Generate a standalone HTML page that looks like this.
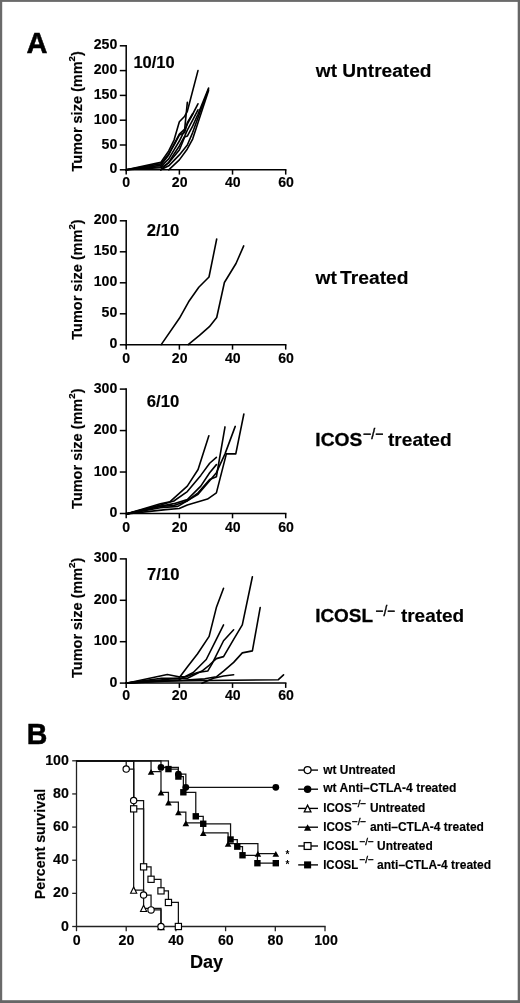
<!DOCTYPE html>
<html lang="en">
<head>
<meta charset="utf-8">
<title>Figure</title>
<style>
html,body{margin:0;padding:0;background:#fff;}
body{width:520px;height:1003px;overflow:hidden;}
#fig{position:absolute;left:0;top:0;width:520px;height:1003px;background:#fff;}
svg{position:absolute;left:0;top:0;display:block;}
svg text{font-family:"Liberation Sans","DejaVu Sans",sans-serif;font-weight:bold;fill:#000;stroke:#000;stroke-width:0.15px;}
</style>
</head>
<body>
<div id="fig"></div>
<svg width="520" height="1003" viewBox="0 0 520 1003">
<rect x="0" y="0" width="520" height="1.9" fill="#6a6a6a"/>
<rect x="0" y="0" width="2.2" height="1003" fill="#6a6a6a"/>
<rect x="517.7" y="0" width="2.3" height="1003" fill="#666"/>
<rect x="0" y="1000.2" width="520" height="2.8" fill="#666"/>
<line x1="126.2" y1="45.05" x2="126.2" y2="170.55" stroke="#000" stroke-width="1.5"/>
<line x1="125.45" y1="169.8" x2="286.45" y2="169.8" stroke="#000" stroke-width="1.5"/>
<line x1="119.8" y1="169.8" x2="126.2" y2="169.8" stroke="#000" stroke-width="1.5"/>
<text x="117.3" y="173.3" font-size="14.1" text-anchor="end">0</text>
<line x1="119.8" y1="145" x2="126.2" y2="145" stroke="#000" stroke-width="1.5"/>
<text x="117.3" y="148.5" font-size="14.1" text-anchor="end">50</text>
<line x1="119.8" y1="120.2" x2="126.2" y2="120.2" stroke="#000" stroke-width="1.5"/>
<text x="117.3" y="123.7" font-size="14.1" text-anchor="end">100</text>
<line x1="119.8" y1="95.4" x2="126.2" y2="95.4" stroke="#000" stroke-width="1.5"/>
<text x="117.3" y="98.9" font-size="14.1" text-anchor="end">150</text>
<line x1="119.8" y1="70.6" x2="126.2" y2="70.6" stroke="#000" stroke-width="1.5"/>
<text x="117.3" y="74.1" font-size="14.1" text-anchor="end">200</text>
<line x1="119.8" y1="45.8" x2="126.2" y2="45.8" stroke="#000" stroke-width="1.5"/>
<text x="117.3" y="49.3" font-size="14.1" text-anchor="end">250</text>
<line x1="126.2" y1="169.8" x2="126.2" y2="174.6" stroke="#000" stroke-width="1.5"/>
<text x="126.2" y="187.3" font-size="14.1" text-anchor="middle">0</text>
<line x1="179.37" y1="169.8" x2="179.37" y2="174.6" stroke="#000" stroke-width="1.5"/>
<text x="179.67" y="187.3" font-size="14.1" text-anchor="middle">20</text>
<line x1="232.53" y1="169.8" x2="232.53" y2="174.6" stroke="#000" stroke-width="1.5"/>
<text x="232.83" y="187.3" font-size="14.1" text-anchor="middle">40</text>
<line x1="285.7" y1="169.8" x2="285.7" y2="174.6" stroke="#000" stroke-width="1.5"/>
<text x="286" y="187.3" font-size="14.1" text-anchor="middle">60</text>
<g transform="translate(82.2 171.5) rotate(-90) scale(1 1.02)">
<text x="0" y="0" font-size="14" textLength="120.4" lengthAdjust="spacingAndGlyphs">Tumor size (mm<tspan font-size="9.5" dy="-7.0">2</tspan><tspan dy="7.0">)</tspan></text>
</g>
<text x="133.4" y="67.7" font-size="15.8" text-anchor="start" textLength="41.3" lengthAdjust="spacingAndGlyphs">10/10</text>
<polyline points="126.2,169.8 160.75,162.36 168.73,150.95 174.04,140.04 179.36,121.69 184.68,116.23 187.33,111.27 197.97,70.6" fill="none" stroke="#000" stroke-width="1.6" stroke-linejoin="round" stroke-linecap="round"/>
<polyline points="126.2,169.8 160.75,165.34 168.73,154.92 174.04,144.01 179.36,134.09 184.68,129.13 187.33,102.34" fill="none" stroke="#000" stroke-width="1.6" stroke-linejoin="round" stroke-linecap="round"/>
<polyline points="126.2,169.8 160.75,166.82 168.73,158.89 174.04,149.96 179.36,141.03 184.68,130.12 187.33,124.17 192.65,114.25 197.97,103.83" fill="none" stroke="#000" stroke-width="1.6" stroke-linejoin="round" stroke-linecap="round"/>
<polyline points="160.75,169.8 168.73,162.36 174.04,153.93 179.36,145.99 184.68,136.07 187.33,130.12 192.65,120.2 197.97,109.78" fill="none" stroke="#000" stroke-width="1.6" stroke-linejoin="round" stroke-linecap="round"/>
<polyline points="126.2,169.8 160.75,167.82 168.73,162.86 179.36,149.96 184.68,137.06 187.33,136.07 192.65,126.15 197.97,114.25 208.6,87.96" fill="none" stroke="#000" stroke-width="1.6" stroke-linejoin="round" stroke-linecap="round"/>
<polyline points="160.75,169.8 168.73,165.83 179.36,154.92 187.33,145 192.65,132.6 197.97,117.72 208.6,88.95" fill="none" stroke="#000" stroke-width="1.6" stroke-linejoin="round" stroke-linecap="round"/>
<polyline points="168.73,169.8 179.36,159.88 187.33,148.97 192.65,139.05 197.97,122.68 208.6,90.44" fill="none" stroke="#000" stroke-width="1.6" stroke-linejoin="round" stroke-linecap="round"/>
<polyline points="126.2,169.8 160.75,163.85 168.73,153.93 174.04,145 179.36,135.08 184.68,132.6 187.33,122.68 192.65,113.75" fill="none" stroke="#000" stroke-width="1.6" stroke-linejoin="round" stroke-linecap="round"/>
<line x1="126.2" y1="220.05" x2="126.2" y2="345.55" stroke="#000" stroke-width="1.5"/>
<line x1="125.45" y1="344.8" x2="286.45" y2="344.8" stroke="#000" stroke-width="1.5"/>
<line x1="119.8" y1="344.8" x2="126.2" y2="344.8" stroke="#000" stroke-width="1.5"/>
<text x="117.3" y="348.3" font-size="14.1" text-anchor="end">0</text>
<line x1="119.8" y1="313.8" x2="126.2" y2="313.8" stroke="#000" stroke-width="1.5"/>
<text x="117.3" y="317.3" font-size="14.1" text-anchor="end">50</text>
<line x1="119.8" y1="282.8" x2="126.2" y2="282.8" stroke="#000" stroke-width="1.5"/>
<text x="117.3" y="286.3" font-size="14.1" text-anchor="end">100</text>
<line x1="119.8" y1="251.8" x2="126.2" y2="251.8" stroke="#000" stroke-width="1.5"/>
<text x="117.3" y="255.3" font-size="14.1" text-anchor="end">150</text>
<line x1="119.8" y1="220.8" x2="126.2" y2="220.8" stroke="#000" stroke-width="1.5"/>
<text x="117.3" y="224.3" font-size="14.1" text-anchor="end">200</text>
<line x1="126.2" y1="344.8" x2="126.2" y2="349.6" stroke="#000" stroke-width="1.5"/>
<text x="126.2" y="362.8" font-size="14.1" text-anchor="middle">0</text>
<line x1="179.37" y1="344.8" x2="179.37" y2="349.6" stroke="#000" stroke-width="1.5"/>
<text x="179.67" y="362.8" font-size="14.1" text-anchor="middle">20</text>
<line x1="232.53" y1="344.8" x2="232.53" y2="349.6" stroke="#000" stroke-width="1.5"/>
<text x="232.83" y="362.8" font-size="14.1" text-anchor="middle">40</text>
<line x1="285.7" y1="344.8" x2="285.7" y2="349.6" stroke="#000" stroke-width="1.5"/>
<text x="286" y="362.8" font-size="14.1" text-anchor="middle">60</text>
<g transform="translate(82.2 339.7) rotate(-90) scale(1 1.02)">
<text x="0" y="0" font-size="14" textLength="120.4" lengthAdjust="spacingAndGlyphs">Tumor size (mm<tspan font-size="9.5" dy="-7.0">2</tspan><tspan dy="7.0">)</tspan></text>
</g>
<text x="146.8" y="236.2" font-size="15.8" text-anchor="start" textLength="32.5" lengthAdjust="spacingAndGlyphs">2/10</text>
<polyline points="161.2,344.6 179.4,318.3 188.6,301.8 198.8,287.2 209,277 216.7,239" fill="none" stroke="#000" stroke-width="1.6" stroke-linejoin="round" stroke-linecap="round"/>
<polyline points="188.2,344.6 199.5,335.4 209.4,326.7 216.7,317.5 224.4,282.5 236,263.5 243.7,245.9" fill="none" stroke="#000" stroke-width="1.6" stroke-linejoin="round" stroke-linecap="round"/>
<line x1="126.2" y1="388.35" x2="126.2" y2="514.25" stroke="#000" stroke-width="1.5"/>
<line x1="125.45" y1="513.5" x2="286.45" y2="513.5" stroke="#000" stroke-width="1.5"/>
<line x1="119.8" y1="513.5" x2="126.2" y2="513.5" stroke="#000" stroke-width="1.5"/>
<text x="117.3" y="517" font-size="14.1" text-anchor="end">0</text>
<line x1="119.8" y1="472.03" x2="126.2" y2="472.03" stroke="#000" stroke-width="1.5"/>
<text x="117.3" y="475.53" font-size="14.1" text-anchor="end">100</text>
<line x1="119.8" y1="430.57" x2="126.2" y2="430.57" stroke="#000" stroke-width="1.5"/>
<text x="117.3" y="434.07" font-size="14.1" text-anchor="end">200</text>
<line x1="119.8" y1="389.1" x2="126.2" y2="389.1" stroke="#000" stroke-width="1.5"/>
<text x="117.3" y="392.6" font-size="14.1" text-anchor="end">300</text>
<line x1="126.2" y1="513.5" x2="126.2" y2="518.3" stroke="#000" stroke-width="1.5"/>
<text x="126.2" y="531.9" font-size="14.1" text-anchor="middle">0</text>
<line x1="179.37" y1="513.5" x2="179.37" y2="518.3" stroke="#000" stroke-width="1.5"/>
<text x="179.67" y="531.9" font-size="14.1" text-anchor="middle">20</text>
<line x1="232.53" y1="513.5" x2="232.53" y2="518.3" stroke="#000" stroke-width="1.5"/>
<text x="232.83" y="531.9" font-size="14.1" text-anchor="middle">40</text>
<line x1="285.7" y1="513.5" x2="285.7" y2="518.3" stroke="#000" stroke-width="1.5"/>
<text x="286" y="531.9" font-size="14.1" text-anchor="middle">60</text>
<g transform="translate(82.2 508.9) rotate(-90) scale(1 1.02)">
<text x="0" y="0" font-size="14" textLength="120.4" lengthAdjust="spacingAndGlyphs">Tumor size (mm<tspan font-size="9.5" dy="-7.0">2</tspan><tspan dy="7.0">)</tspan></text>
</g>
<text x="146.8" y="407.3" font-size="15.8" text-anchor="start" textLength="32.5" lengthAdjust="spacingAndGlyphs">6/10</text>
<polyline points="126.73,513.89 160.39,503.66 169.81,501.78 187.31,486.16 198.08,469.47 208.85,435.81" fill="none" stroke="#000" stroke-width="1.6" stroke-linejoin="round" stroke-linecap="round"/>
<polyline points="126.73,513.89 160.39,505.01 173.85,500.97 187.31,491.55 200.78,475.39 209.66,463.27 216.39,457.35" fill="none" stroke="#000" stroke-width="1.6" stroke-linejoin="round" stroke-linecap="round"/>
<polyline points="126.73,513.89 152.31,507.7 173.85,503.66 187.31,499.62 200.78,486.16 209.66,472.7 216.39,464.62" fill="none" stroke="#000" stroke-width="1.6" stroke-linejoin="round" stroke-linecap="round"/>
<polyline points="126.73,513.89 160.39,506.35 173.85,505.55 187.31,500.97 198.08,492.89 209.66,479.43 216.39,476.74 225.01,426.93" fill="none" stroke="#000" stroke-width="1.6" stroke-linejoin="round" stroke-linecap="round"/>
<polyline points="126.73,513.89 160.39,507.7 177.89,506.35 198.08,494.24 209.66,480.78 216.39,472.7 225.01,453.85 235.24,426.39" fill="none" stroke="#000" stroke-width="1.6" stroke-linejoin="round" stroke-linecap="round"/>
<polyline points="126.73,513.89 165.77,509.59 179.24,508.51 187.31,505.01 207.51,499.08 216.39,492.89 226.35,453.85 235.78,453.85 243.86,414" fill="none" stroke="#000" stroke-width="1.6" stroke-linejoin="round" stroke-linecap="round"/>
<line x1="126.2" y1="558.15" x2="126.2" y2="683.85" stroke="#000" stroke-width="1.5"/>
<line x1="125.45" y1="683.1" x2="286.45" y2="683.1" stroke="#000" stroke-width="1.5"/>
<line x1="119.8" y1="683.1" x2="126.2" y2="683.1" stroke="#000" stroke-width="1.5"/>
<text x="117.3" y="686.6" font-size="14.1" text-anchor="end">0</text>
<line x1="119.8" y1="641.7" x2="126.2" y2="641.7" stroke="#000" stroke-width="1.5"/>
<text x="117.3" y="645.2" font-size="14.1" text-anchor="end">100</text>
<line x1="119.8" y1="600.3" x2="126.2" y2="600.3" stroke="#000" stroke-width="1.5"/>
<text x="117.3" y="603.8" font-size="14.1" text-anchor="end">200</text>
<line x1="119.8" y1="558.9" x2="126.2" y2="558.9" stroke="#000" stroke-width="1.5"/>
<text x="117.3" y="562.4" font-size="14.1" text-anchor="end">300</text>
<line x1="126.2" y1="683.1" x2="126.2" y2="687.9" stroke="#000" stroke-width="1.5"/>
<text x="126.2" y="700.2" font-size="14.1" text-anchor="middle">0</text>
<line x1="179.37" y1="683.1" x2="179.37" y2="687.9" stroke="#000" stroke-width="1.5"/>
<text x="179.67" y="700.2" font-size="14.1" text-anchor="middle">20</text>
<line x1="232.53" y1="683.1" x2="232.53" y2="687.9" stroke="#000" stroke-width="1.5"/>
<text x="232.83" y="700.2" font-size="14.1" text-anchor="middle">40</text>
<line x1="285.7" y1="683.1" x2="285.7" y2="687.9" stroke="#000" stroke-width="1.5"/>
<text x="286" y="700.2" font-size="14.1" text-anchor="middle">60</text>
<g transform="translate(82.2 678) rotate(-90) scale(1 1.02)">
<text x="0" y="0" font-size="14" textLength="120.4" lengthAdjust="spacingAndGlyphs">Tumor size (mm<tspan font-size="9.5" dy="-7.0">2</tspan><tspan dy="7.0">)</tspan></text>
</g>
<text x="147" y="579.6" font-size="15.8" text-anchor="start" textLength="32.5" lengthAdjust="spacingAndGlyphs">7/10</text>
<polyline points="126.2,683.16 178.84,678.26 187.5,666.72 197.59,653.74 209.13,636.43 216.34,607.59 223.55,588.27" fill="none" stroke="#000" stroke-width="1.6" stroke-linejoin="round" stroke-linecap="round"/>
<polyline points="126.2,683.16 178.84,679.7 193.27,672.49 206.24,659.51 216.34,639.32 223.55,624.9" fill="none" stroke="#000" stroke-width="1.6" stroke-linejoin="round" stroke-linecap="round"/>
<polyline points="126.2,683.16 167.31,674.51 178.84,676.82 186.05,676.82 197.59,672.49 207.69,671.05 212.01,663.84 223.55,640.76 233.65,629.8" fill="none" stroke="#000" stroke-width="1.6" stroke-linejoin="round" stroke-linecap="round"/>
<polyline points="126.2,683.16 161.54,678.26 187.5,678.26 201.92,671.05 209.13,665.28 216.34,658.64 223.55,656.63 233.65,639.32 242.3,624.9 252.39,576.73" fill="none" stroke="#000" stroke-width="1.6" stroke-linejoin="round" stroke-linecap="round"/>
<polyline points="126.2,683.16 178.84,680.57 204.8,678.83 216.34,676.82 223.55,671.05 233.65,662.39 242.3,652.88 252.39,650.86 260.18,607.59" fill="none" stroke="#000" stroke-width="1.6" stroke-linejoin="round" stroke-linecap="round"/>
<polyline points="201.92,683.16 213.46,678.26 223.55,675.95 233.65,674.8" fill="none" stroke="#000" stroke-width="1.6" stroke-linejoin="round" stroke-linecap="round"/>
<polyline points="126.2,683.16 150,681.14 278.35,679.7 283.54,674.8" fill="none" stroke="#000" stroke-width="1.6" stroke-linejoin="round" stroke-linecap="round"/>
<text x="315.8" y="76.9" font-size="18" text-anchor="start" textLength="115.7" lengthAdjust="spacingAndGlyphs">wt Untreated</text>
<text x="315.6" y="284" font-size="18" text-anchor="start" textLength="21.4" lengthAdjust="spacingAndGlyphs">wt</text>
<text x="340.1" y="284" font-size="18" text-anchor="start" textLength="68.4" lengthAdjust="spacingAndGlyphs">Treated</text>
<text x="315.3" y="445.7" font-size="18.6" text-anchor="start" textLength="46.9" lengthAdjust="spacingAndGlyphs" style="stroke-width:0.3px">ICOS</text>
<text x="363" y="439.3" font-size="14.8" text-anchor="start" textLength="20.4" lengthAdjust="spacingAndGlyphs" style="font-weight:normal;stroke-width:0.45px">−/−</text>
<text x="388" y="445.7" font-size="18.6" text-anchor="start" textLength="63.6" lengthAdjust="spacingAndGlyphs">treated</text>
<text x="315.2" y="621.9" font-size="18.6" text-anchor="start" textLength="57.8" lengthAdjust="spacingAndGlyphs" style="stroke-width:0.3px">ICOSL</text>
<text x="375.5" y="615.5" font-size="14.8" text-anchor="start" textLength="19.6" lengthAdjust="spacingAndGlyphs" style="font-weight:normal;stroke-width:0.45px">−/−</text>
<text x="400.9" y="621.9" font-size="18.6" text-anchor="start" textLength="63.3" lengthAdjust="spacingAndGlyphs">treated</text>
<text x="26.6" y="52.9" font-size="29.5" text-anchor="start" textLength="21" lengthAdjust="spacingAndGlyphs" style="stroke-width:0.5px">A</text>
<text x="26.7" y="743.8" font-size="29.5" text-anchor="start" textLength="20.6" lengthAdjust="spacingAndGlyphs" style="stroke-width:0.5px">B</text>
<line x1="76.5" y1="760.15" x2="76.5" y2="927.15" stroke="#222" stroke-width="1.3"/>
<line x1="75.85" y1="926.5" x2="325.65" y2="926.5" stroke="#222" stroke-width="1.3"/>
<line x1="72.2" y1="926.5" x2="76.5" y2="926.5" stroke="#222" stroke-width="1.3"/>
<text x="68.8" y="930.6" font-size="14.2" text-anchor="end">0</text>
<line x1="72.2" y1="893.36" x2="76.5" y2="893.36" stroke="#222" stroke-width="1.3"/>
<text x="68.8" y="897.46" font-size="14.2" text-anchor="end">20</text>
<line x1="72.2" y1="860.22" x2="76.5" y2="860.22" stroke="#222" stroke-width="1.3"/>
<text x="68.8" y="864.32" font-size="14.2" text-anchor="end">40</text>
<line x1="72.2" y1="827.08" x2="76.5" y2="827.08" stroke="#222" stroke-width="1.3"/>
<text x="68.8" y="831.18" font-size="14.2" text-anchor="end">60</text>
<line x1="72.2" y1="793.94" x2="76.5" y2="793.94" stroke="#222" stroke-width="1.3"/>
<text x="68.8" y="798.04" font-size="14.2" text-anchor="end">80</text>
<line x1="72.2" y1="760.8" x2="76.5" y2="760.8" stroke="#222" stroke-width="1.3"/>
<text x="68.8" y="764.9" font-size="14.2" text-anchor="end">100</text>
<line x1="76.5" y1="926.5" x2="76.5" y2="931.2" stroke="#222" stroke-width="1.3"/>
<text x="76.7" y="945.3" font-size="14.2" text-anchor="middle">0</text>
<line x1="126.2" y1="926.5" x2="126.2" y2="931.2" stroke="#222" stroke-width="1.3"/>
<text x="126.4" y="945.3" font-size="14.2" text-anchor="middle">20</text>
<line x1="175.9" y1="926.5" x2="175.9" y2="931.2" stroke="#222" stroke-width="1.3"/>
<text x="176.1" y="945.3" font-size="14.2" text-anchor="middle">40</text>
<line x1="225.6" y1="926.5" x2="225.6" y2="931.2" stroke="#222" stroke-width="1.3"/>
<text x="225.8" y="945.3" font-size="14.2" text-anchor="middle">60</text>
<line x1="275.3" y1="926.5" x2="275.3" y2="931.2" stroke="#222" stroke-width="1.3"/>
<text x="275.5" y="945.3" font-size="14.2" text-anchor="middle">80</text>
<line x1="325" y1="926.5" x2="325" y2="931.2" stroke="#222" stroke-width="1.3"/>
<text x="326" y="945.3" font-size="14.2" text-anchor="middle">100</text>
<text x="190" y="968.4" font-size="18" text-anchor="start" textLength="33.1" lengthAdjust="spacingAndGlyphs">Day</text>
<g transform="translate(44.9 899.2) rotate(-90) scale(1 1.08)"><text x="0" y="0" font-size="14.3" textLength="110.3" lengthAdjust="spacingAndGlyphs">Percent survival</text></g>
<polyline points="76.5,760.8 133.66,760.8 133.66,890.05 143.59,890.05 143.59,908.27 160.99,908.27 160.99,926.5" fill="none" stroke="#111" stroke-width="1.25" stroke-linejoin="miter"/>
<polyline points="76.5,760.8 126.2,760.8 126.2,769.08 133.66,769.08 133.66,800.57 143.59,800.57 143.59,895.02 151.05,895.02 151.05,909.93 160.99,909.93 160.99,926.5" fill="none" stroke="#111" stroke-width="1.25" stroke-linejoin="miter"/>
<polyline points="76.5,760.8 133.66,760.8 133.66,808.85 143.59,808.85 143.59,866.85 151.05,866.85 151.05,879.28 160.99,879.28 160.99,890.87 168.44,890.87 168.44,902.47 178.38,902.47 178.38,926.5" fill="none" stroke="#111" stroke-width="1.25" stroke-linejoin="miter"/>
<polyline points="76.5,760.8 151.05,760.8 151.05,771.57 160.99,771.57 160.99,792.28 168.44,792.28 168.44,802.22 178.38,802.22 178.38,812.17 185.84,812.17 185.84,822.94 203.24,822.94 203.24,832.88 228.09,832.88 228.09,843.65 257.9,843.65 257.9,853.59 275.8,853.59" fill="none" stroke="#111" stroke-width="1.25" stroke-linejoin="miter"/>
<polyline points="76.5,760.8 160.99,760.8 160.99,767.43 178.38,767.43 178.38,774.06 185.84,774.06 185.84,787.31 275.8,787.31" fill="none" stroke="#111" stroke-width="1.25" stroke-linejoin="miter"/>
<polyline points="76.5,760.8 168.44,760.8 168.44,769.08 178.38,769.08 178.38,776.54 183.36,776.54 183.36,792.28 195.78,792.28 195.78,816.31 203.24,816.31 203.24,823.77 230.57,823.77 230.57,839.51 237.28,839.51 237.28,846.63 242.5,846.63 242.5,855.25 257.41,855.25 257.41,863.2 275.8,863.2" fill="none" stroke="#111" stroke-width="1.25" stroke-linejoin="miter"/>
<polygon points="133.66,887.05 130.6,893.25 136.71,893.25" fill="#fff" stroke="#000" stroke-width="1.15" stroke-linejoin="miter"/>
<polygon points="143.59,905.27 140.54,911.47 146.65,911.47" fill="#fff" stroke="#000" stroke-width="1.15" stroke-linejoin="miter"/>
<polygon points="160.99,923.5 157.94,929.7 164.04,929.7" fill="#fff" stroke="#000" stroke-width="1.15" stroke-linejoin="miter"/>
<circle cx="126.2" cy="769.08" r="3.15" fill="#fff" stroke="#000" stroke-width="1.15"/>
<circle cx="133.66" cy="800.57" r="3.15" fill="#fff" stroke="#000" stroke-width="1.15"/>
<circle cx="143.59" cy="895.02" r="3.15" fill="#fff" stroke="#000" stroke-width="1.15"/>
<circle cx="151.05" cy="909.93" r="3.15" fill="#fff" stroke="#000" stroke-width="1.15"/>
<circle cx="160.99" cy="926.5" r="3.15" fill="#fff" stroke="#000" stroke-width="1.15"/>
<rect x="130.56" y="805.75" width="6.2" height="6.2" fill="#fff" stroke="#000" stroke-width="1.15"/>
<rect x="140.5" y="863.75" width="6.2" height="6.2" fill="#fff" stroke="#000" stroke-width="1.15"/>
<rect x="147.95" y="876.18" width="6.2" height="6.2" fill="#fff" stroke="#000" stroke-width="1.15"/>
<rect x="157.89" y="887.77" width="6.2" height="6.2" fill="#fff" stroke="#000" stroke-width="1.15"/>
<rect x="165.34" y="899.37" width="6.2" height="6.2" fill="#fff" stroke="#000" stroke-width="1.15"/>
<rect x="175.28" y="923.4" width="6.2" height="6.2" fill="#fff" stroke="#000" stroke-width="1.15"/>
<polygon points="151.05,768.97 147.75,774.77 154.35,774.77" fill="#000"/>
<polygon points="160.99,789.68 157.69,795.48 164.29,795.48" fill="#000"/>
<polygon points="168.44,799.62 165.14,805.42 171.75,805.42" fill="#000"/>
<polygon points="178.38,809.57 175.08,815.37 181.69,815.37" fill="#000"/>
<polygon points="185.84,820.34 182.54,826.14 189.14,826.14" fill="#000"/>
<polygon points="203.24,830.28 199.94,836.08 206.54,836.08" fill="#000"/>
<polygon points="228.09,841.05 224.78,846.85 231.39,846.85" fill="#000"/>
<polygon points="257.9,850.99 254.6,856.79 261.2,856.79" fill="#000"/>
<polygon points="275.8,850.99 272.5,856.79 279.1,856.79" fill="#000"/>
<circle cx="160.99" cy="767.43" r="3.4" fill="#000"/>
<circle cx="178.38" cy="774.06" r="3.4" fill="#000"/>
<circle cx="185.84" cy="787.31" r="3.4" fill="#000"/>
<circle cx="275.8" cy="787.31" r="3.4" fill="#000"/>
<rect x="165.25" y="765.88" width="6.4" height="6.4" fill="#000"/>
<rect x="175.19" y="773.34" width="6.4" height="6.4" fill="#000"/>
<rect x="180.16" y="789.08" width="6.4" height="6.4" fill="#000"/>
<rect x="192.58" y="813.11" width="6.4" height="6.4" fill="#000"/>
<rect x="200.04" y="820.57" width="6.4" height="6.4" fill="#000"/>
<rect x="227.37" y="836.31" width="6.4" height="6.4" fill="#000"/>
<rect x="234.08" y="843.43" width="6.4" height="6.4" fill="#000"/>
<rect x="239.3" y="852.05" width="6.4" height="6.4" fill="#000"/>
<rect x="254.21" y="860" width="6.4" height="6.4" fill="#000"/>
<rect x="272.6" y="860" width="6.4" height="6.4" fill="#000"/>
<text x="287.5" y="857.6" font-size="10" text-anchor="middle" style="stroke:none">*</text>
<text x="287.5" y="867.6" font-size="10" text-anchor="middle" style="stroke:none">*</text>
<line x1="298.2" y1="770.1" x2="318" y2="770.1" stroke="#000" stroke-width="1.35"/>
<g transform="translate(307.6 770.1) scale(1.1)">
<circle cx="0" cy="0" r="3.15" fill="#fff" stroke="#000" stroke-width="1.15"/>
</g>
<text x="323.2" y="773.5" font-size="12" text-anchor="start" textLength="72.3" lengthAdjust="spacingAndGlyphs">wt Untreated</text>
<line x1="298.2" y1="789.2" x2="318" y2="789.2" stroke="#000" stroke-width="1.35"/>
<g transform="translate(307.6 789.2) scale(1.1)">
<circle cx="0" cy="0" r="3.4" fill="#000"/>
</g>
<text x="323.2" y="792.2" font-size="12" text-anchor="start" textLength="133.3" lengthAdjust="spacingAndGlyphs">wt Anti–CTLA-4 treated</text>
<line x1="298.2" y1="808.4" x2="318" y2="808.4" stroke="#000" stroke-width="1.35"/>
<g transform="translate(307.6 808.4) scale(1.1)">
<polygon points="0,-3 -3.05,3.2 3.05,3.2" fill="#fff" stroke="#000" stroke-width="1.15" stroke-linejoin="miter"/>
</g>
<text x="323.2" y="812.2" font-size="12" text-anchor="start" textLength="28.5" lengthAdjust="spacingAndGlyphs">ICOS</text>
<text x="352" y="806.8" font-size="9.6" text-anchor="start" textLength="14" lengthAdjust="spacingAndGlyphs" style="font-weight:normal;stroke-width:0.4px">−/−</text>
<text x="369.9" y="812.2" font-size="12" text-anchor="start" textLength="55.4" lengthAdjust="spacingAndGlyphs">Untreated</text>
<line x1="298.2" y1="827.2" x2="318" y2="827.2" stroke="#000" stroke-width="1.35"/>
<g transform="translate(307.6 827.2) scale(1.1)">
<polygon points="0,-2.6 -3.3,3.2 3.3,3.2" fill="#000"/>
</g>
<text x="323.2" y="830.5" font-size="12" text-anchor="start" textLength="28.5" lengthAdjust="spacingAndGlyphs">ICOS</text>
<text x="352" y="825.1" font-size="9.6" text-anchor="start" textLength="14" lengthAdjust="spacingAndGlyphs" style="font-weight:normal;stroke-width:0.4px">−/−</text>
<text x="369.9" y="830.5" font-size="12" text-anchor="start" textLength="114" lengthAdjust="spacingAndGlyphs">anti–CTLA-4 treated</text>
<line x1="298.2" y1="846" x2="318" y2="846" stroke="#000" stroke-width="1.35"/>
<g transform="translate(307.6 846) scale(1.1)">
<rect x="-3.1" y="-3.1" width="6.2" height="6.2" fill="#fff" stroke="#000" stroke-width="1.15"/>
</g>
<text x="323.2" y="850" font-size="12" text-anchor="start" textLength="35" lengthAdjust="spacingAndGlyphs">ICOSL</text>
<text x="359.6" y="844.6" font-size="9.6" text-anchor="start" textLength="14" lengthAdjust="spacingAndGlyphs" style="font-weight:normal;stroke-width:0.4px">−/−</text>
<text x="377.1" y="850" font-size="12" text-anchor="start" textLength="55.6" lengthAdjust="spacingAndGlyphs">Untreated</text>
<line x1="298.2" y1="864.9" x2="318" y2="864.9" stroke="#000" stroke-width="1.35"/>
<g transform="translate(307.6 864.9) scale(1.1)">
<rect x="-3.2" y="-3.2" width="6.4" height="6.4" fill="#000"/>
</g>
<text x="323.2" y="868.7" font-size="12" text-anchor="start" textLength="35" lengthAdjust="spacingAndGlyphs">ICOSL</text>
<text x="359.6" y="863.3" font-size="9.6" text-anchor="start" textLength="14" lengthAdjust="spacingAndGlyphs" style="font-weight:normal;stroke-width:0.4px">−/−</text>
<text x="377.1" y="868.7" font-size="12" text-anchor="start" textLength="114" lengthAdjust="spacingAndGlyphs">anti–CTLA-4 treated</text>
</svg>
</body>
</html>
